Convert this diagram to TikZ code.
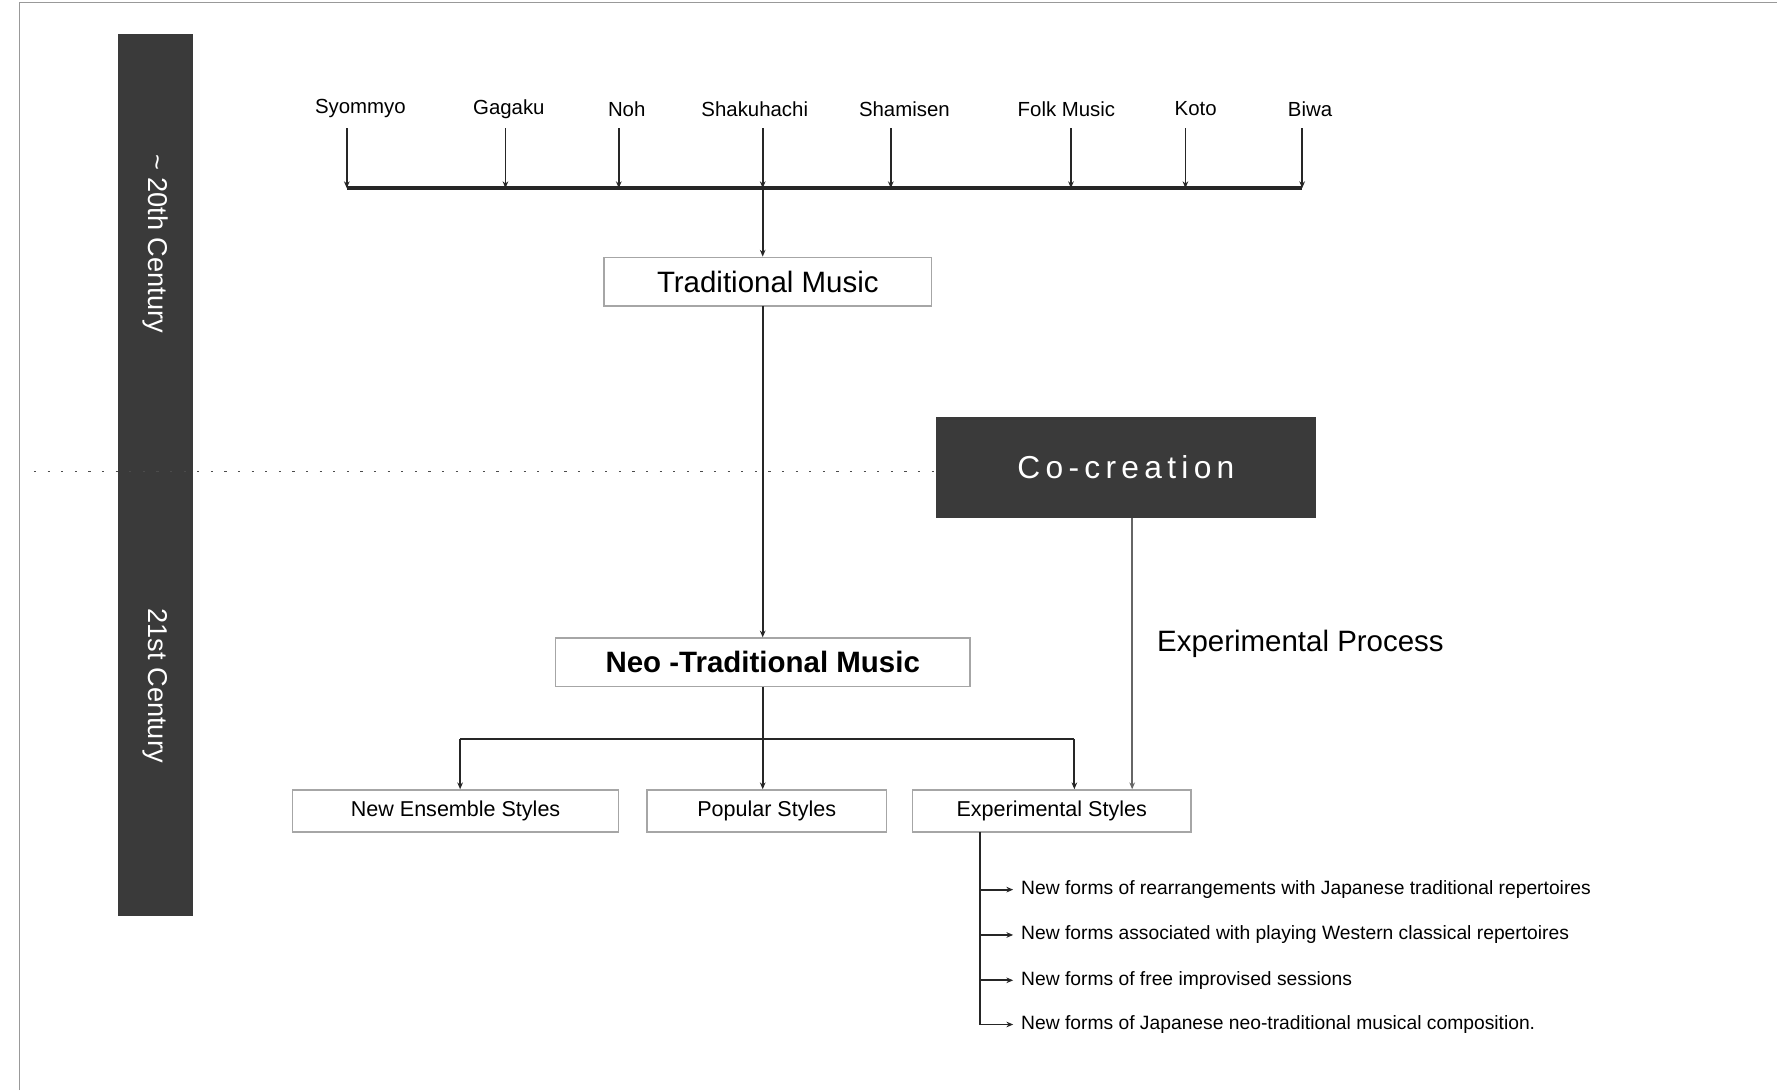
\documentclass[tikz,border=0pt]{standalone}
\usepackage{fontspec}
\setmainfont{Liberation Sans}
\usetikzlibrary{arrows.meta}
\definecolor{dk}{HTML}{3A3A3A}
\begin{document}
\begin{tikzpicture}[x=0.5pt,y=-0.5pt,
  ln/.style={line width=0.8pt,black!85},
  ar/.style={ln,-{Stealth[length=3pt,width=2.5pt]}},
  box/.style={draw=black!35,line width=0.6pt,fill=white,inner sep=0pt},
  top/.style={font=\fontsize{9}{10}\selectfont,anchor=center},
  sm/.style={font=\fontsize{8.5}{10}\selectfont,anchor=west}]
\useasboundingbox (0,0) rectangle (1568,962);
\draw[black!40,line width=0.5pt] (17,962) -- (17,2) -- (1568,2);
\fill[dk] (104,30) rectangle (170,808);
\node[rotate=-90,text=white,font=\fontsize{12}{14}\selectfont] (c20) at (137,215) {\textasciitilde\ 20th Century};
\node[rotate=-90,text=white,font=\fontsize{12}{14}\selectfont] (c21) at (137,605) {21st Century};
% top labels
\foreach \n/\t/\lx/\ax in {a/Syommyo/318/306,b/Gagaku/449/446,c/Noh/553/546,d/Shakuhachi/666/673,e/Shamisen/798/786,f/Folk Music/941/945,g/Koto/1055/1046,h/Biwa/1156/1149}{
  \node[top] (t\n) at (\lx,96) {\t};
  \coordinate (s\n) at (\ax,113);
  \coordinate (e\n) at (\ax,166);
  \draw[ar] (s\n) -- (e\n);
}
\draw[line width=1.6pt,black!85] (ea) -- (eh);
\node[box,minimum width=144.5pt,minimum height=21.5pt,font=\fontsize{13}{15}\selectfont] (trad) at (677.5,248.5) {Traditional Music};
\coordinate (jt) at (673,166);
\draw[ar] (jt) -- (jt|-trad.north);
\draw[black!70,line width=0.8pt,dotted,dash pattern=on 1pt off 5pt] (30,416) -- (825,416);
\node[fill=dk,minimum width=167.5pt,minimum height=44.5pt,inner sep=0pt,text=white,font=\fontsize{14}{16}\selectfont] (co) at (993.5,412.5) {C\,o\,-\,c\,r\,e\,a\,t\,i\,o\,n};
\node[box,minimum width=183pt,minimum height=21.5pt,font=\bfseries\fontsize{13}{15}\selectfont] (neo) at (673,584.5) {Neo -Traditional Music};
\coordinate (tn) at (673,270);
\draw[ar] (tn) -- (tn|-neo.north);
\node[font=\fontsize{13}{15}\selectfont,anchor=west] (ep) at (1014,568) {Experimental Process};
\tikzset{sb/.style={box,minimum height=18.5pt,font=\fontsize{9.5}{11}\selectfont}}
\node[sb,minimum width=144pt] (ne) at (402,715.5) {New Ensemble Styles};
\node[sb,minimum width=105.5pt] (po) at (676.5,715.5) {Popular Styles};
\node[sb,minimum width=123pt] (ex) at (928,715.5) {Experimental Styles};
\coordinate (nb) at (673,606);
\coordinate (j) at (673,652);
\coordinate (jl) at (406,652);
\coordinate (jr) at (948,652);
\draw[ln] (nb) -- (j);
\draw[ln] (jl) -- (jr);
\draw[ar] (jl) -- (jl|-ne.north);
\draw[ar] (j) -- (j|-po.north);
\draw[ar] (jr) -- (jr|-ex.north);
\coordinate (cb) at (999,457);
\draw[ar,black!60] (cb) -- (cb|-ex.north);
\coordinate (xs) at (865,734);
\draw[ln] (xs) -- (865,904);
\foreach \k/\y/\t in {1/785/New forms of rearrangements with Japanese traditional repertoires,
  2/825/New forms associated with playing Western classical repertoires,
  3/865/New forms of free improvised sessions,
  4/904/New forms of Japanese neo-traditional musical composition.}{
  \node[sm] (l\k) at (894,\y) {\t};
  \draw[ar] (865,\y) -- (l\k.west);
}
\end{tikzpicture}
\end{document}
